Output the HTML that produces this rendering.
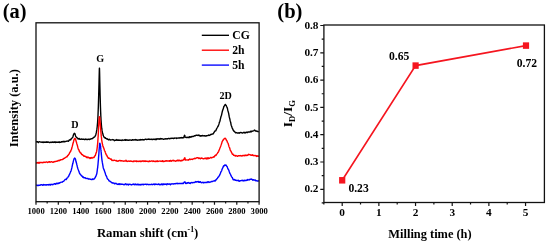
<!DOCTYPE html>
<html lang="en"><head><meta charset="utf-8"><title>Raman spectra and ID/IG ratio</title>
<style>html,body{margin:0;padding:0;background:#fff}body{width:550px;height:244px;overflow:hidden}svg{display:block}text{font-family:"Liberation Serif", "Times New Roman", Times, serif;font-weight:bold;fill:#000}</style></head><body>
<svg width="550" height="244" viewBox="0 0 550 244">
<rect x="0" y="0" width="550" height="244" fill="#ffffff"/>
<text x="2.7" y="17.5" font-size="20.4">(a)</text>
<clipPath id="ca"><rect x="36.0" y="22.8" width="223.10" height="178.90"/></clipPath>
<g clip-path="url(#ca)" fill="none" stroke-width="1.4" stroke-linejoin="round">
<polyline stroke="#000000" points="36.00,141.60 36.30,141.92 36.60,141.78 36.90,141.84 37.20,141.61 37.50,141.61 37.80,141.80 38.10,142.36 38.40,142.54 38.70,141.97 39.00,141.90 39.30,141.86 39.60,141.75 39.90,141.80 40.20,142.05 40.50,142.08 40.80,142.16 41.10,142.17 41.40,142.04 41.70,142.32 42.00,142.41 42.30,142.09 42.60,141.99 42.90,142.16 43.20,142.50 43.50,142.38 43.80,142.04 44.10,142.25 44.40,142.16 44.70,141.96 45.00,142.25 45.30,142.39 45.60,142.27 45.90,142.29 46.20,141.84 46.50,141.91 46.80,142.20 47.10,141.79 47.40,141.99 47.70,142.37 48.00,142.26 48.30,141.99 48.60,142.07 48.90,142.24 49.20,142.46 49.50,142.59 49.80,142.40 50.10,142.47 50.40,142.41 50.70,142.10 51.00,142.23 51.30,142.47 51.60,142.35 51.90,142.14 52.20,142.21 52.50,141.95 52.80,142.02 53.10,142.49 53.40,142.13 53.70,142.07 54.00,142.17 54.30,142.28 54.60,142.11 54.90,141.85 55.20,142.27 55.50,142.59 55.80,142.13 56.10,141.87 56.40,142.24 56.70,142.22 57.00,142.40 57.30,142.30 57.60,142.09 57.90,142.10 58.20,142.25 58.50,142.39 58.80,142.10 59.10,141.81 59.40,142.12 59.70,142.49 60.00,142.32 60.30,142.36 60.60,142.28 60.90,141.98 61.20,141.77 61.50,141.72 61.80,142.03 62.10,141.90 62.40,141.56 62.70,141.71 63.00,141.80 63.30,141.91 63.60,141.64 63.90,141.24 64.20,141.39 64.50,141.80 64.80,141.87 65.10,141.67 65.40,141.45 65.70,141.40 66.00,141.35 66.30,141.37 66.60,141.22 66.90,141.04 67.20,141.08 67.50,141.06 67.80,141.03 68.10,141.25 68.40,141.35 68.70,141.07 69.00,140.40 69.30,139.98 69.60,140.06 69.90,140.03 70.20,139.60 70.50,139.50 70.80,139.80 71.10,139.17 71.40,138.56 71.70,138.30 72.00,138.07 72.30,137.82 72.60,137.56 72.90,136.73 73.20,135.70 73.50,134.82 73.80,134.07 74.10,133.52 74.40,133.31 74.70,133.44 75.00,133.95 75.30,134.85 75.60,135.89 75.90,136.78 76.20,137.02 76.50,137.26 76.80,137.71 77.10,137.94 77.40,137.93 77.70,138.30 78.00,138.98 78.30,138.99 78.60,138.62 78.90,138.57 79.20,138.53 79.50,138.87 79.80,139.27 80.10,139.24 80.40,139.20 80.70,139.26 81.00,139.26 81.30,139.03 81.60,138.96 81.90,139.23 82.20,139.20 82.50,139.12 82.80,139.12 83.10,139.14 83.40,139.41 83.70,139.39 84.00,139.23 84.30,139.41 84.60,139.53 84.90,139.66 85.20,139.22 85.50,139.08 85.80,139.32 86.10,139.20 86.40,139.40 86.70,139.53 87.00,139.55 87.30,139.40 87.60,139.47 87.90,139.39 88.20,139.10 88.50,139.26 88.80,139.17 89.10,139.36 89.40,139.58 89.70,139.55 90.00,139.34 90.30,138.90 90.60,138.88 90.90,138.99 91.20,138.81 91.50,138.68 91.80,138.68 92.10,138.77 92.40,138.56 92.70,138.33 93.00,138.18 93.30,137.69 93.60,137.48 93.90,137.20 94.20,137.05 94.50,137.06 94.80,136.67 95.10,136.12 95.40,135.76 95.70,134.98 96.00,133.86 96.30,132.64 96.60,130.92 96.90,129.20 97.20,126.71 97.50,123.38 97.55,123.01 97.60,122.39 97.65,121.67 97.70,120.60 97.75,119.87 97.80,119.07 97.85,118.10 97.90,117.26 97.95,116.29 98.00,115.22 98.05,114.03 98.10,112.89 98.15,111.49 98.20,110.24 98.25,109.08 98.30,107.91 98.35,106.86 98.40,104.89 98.45,103.17 98.50,101.84 98.55,99.99 98.60,98.38 98.65,96.70 98.70,94.53 98.75,92.72 98.80,91.09 98.85,89.23 98.90,87.13 98.95,85.25 99.00,83.59 99.05,81.31 99.10,79.07 99.15,77.18 99.20,75.12 99.25,73.35 99.30,71.53 99.35,69.46 99.40,68.24 99.45,68.14 99.50,69.29 99.55,70.76 99.60,72.45 99.65,74.87 99.70,77.24 99.75,79.89 99.80,82.14 99.85,84.15 99.90,86.44 99.95,88.53 100.00,90.38 100.05,92.57 100.10,94.68 100.15,96.29 100.20,98.00 100.25,99.65 100.30,101.59 100.35,103.51 100.40,105.12 100.45,106.67 100.50,108.12 100.55,109.33 100.60,110.68 100.65,112.03 100.70,113.10 100.75,114.27 100.80,115.58 100.85,116.54 100.90,117.28 100.95,118.30 101.00,119.54 101.05,120.25 101.10,120.74 101.15,121.52 101.20,122.46 101.25,122.89 101.30,123.41 101.35,124.51 101.40,124.92 101.45,125.54 101.70,128.20 102.00,130.16 102.30,131.84 102.60,133.03 102.90,133.98 103.20,135.36 103.50,136.00 103.80,136.57 104.10,137.17 104.40,137.43 104.70,137.79 105.00,137.57 105.30,137.72 105.60,138.32 105.90,138.41 106.20,138.34 106.50,138.72 106.80,138.96 107.10,138.75 107.40,138.85 107.70,139.34 108.00,139.46 108.30,139.54 108.60,139.93 108.90,139.85 109.20,139.49 109.50,139.33 109.80,139.55 110.10,139.93 110.40,140.01 110.70,139.99 111.00,139.91 111.30,139.90 111.60,139.92 111.90,139.84 112.20,139.74 112.50,139.56 112.80,139.70 113.10,139.79 113.40,139.73 113.70,140.02 114.00,140.16 114.30,140.52 114.60,140.69 114.90,140.15 115.20,140.13 115.50,140.29 115.80,140.07 116.10,140.19 116.40,140.19 116.70,139.54 117.00,139.79 117.30,140.17 117.60,140.29 117.90,140.28 118.20,139.87 118.50,140.21 118.80,140.23 119.10,140.02 119.40,140.42 119.70,140.40 120.00,140.16 120.30,140.16 120.60,140.30 120.90,140.15 121.20,140.12 121.50,140.33 121.80,140.60 122.10,140.45 122.40,139.94 122.70,140.10 123.00,140.18 123.30,140.10 123.60,140.18 123.90,140.31 124.20,140.18 124.50,139.98 124.80,139.68 125.10,139.55 125.40,140.18 125.70,140.21 126.00,139.85 126.30,139.76 126.60,139.96 126.90,140.17 127.20,139.89 127.50,139.96 127.80,140.18 128.10,140.18 128.40,140.04 128.70,140.18 129.00,140.34 129.30,140.04 129.60,139.89 129.90,139.86 130.20,140.07 130.50,140.06 130.80,140.09 131.10,140.22 131.40,140.25 131.70,140.28 132.00,140.05 132.30,139.62 132.60,139.67 132.90,140.08 133.20,140.05 133.50,140.01 133.80,139.90 134.10,139.75 134.40,139.67 134.70,139.93 135.00,140.10 135.30,139.80 135.60,139.56 135.90,139.60 136.20,140.03 136.50,140.12 136.80,139.77 137.10,139.92 137.40,140.24 137.70,140.17 138.00,140.06 138.30,140.08 138.60,140.03 138.90,139.96 139.20,139.75 139.50,139.85 139.80,140.00 140.10,140.07 140.40,139.71 140.70,139.49 141.00,139.95 141.30,139.78 141.60,139.69 141.90,139.85 142.20,139.85 142.50,139.64 142.80,139.52 143.10,139.75 143.40,139.96 143.70,139.81 144.00,139.61 144.30,139.61 144.60,139.75 144.90,139.54 145.20,139.16 145.50,139.33 145.80,139.36 146.10,139.24 146.40,139.41 146.70,139.57 147.00,139.37 147.30,139.41 147.60,139.29 147.90,139.24 148.20,139.26 148.50,138.96 148.80,139.30 149.10,139.42 149.40,139.19 149.70,139.17 150.00,139.35 150.30,139.40 150.60,139.32 150.90,139.48 151.20,139.36 151.50,139.11 151.80,139.13 152.10,139.37 152.40,139.60 152.70,139.60 153.00,139.43 153.30,139.19 153.60,139.32 153.90,139.27 154.20,139.26 154.50,139.42 154.80,139.17 155.10,139.03 155.40,139.11 155.70,139.38 156.00,139.80 156.30,139.50 156.60,139.08 156.90,138.73 157.20,138.75 157.50,139.09 157.80,138.88 158.10,138.99 158.40,138.91 158.70,138.74 159.00,138.99 159.30,138.82 159.60,138.92 159.90,139.27 160.20,138.91 160.50,138.51 160.80,138.81 161.10,139.01 161.40,138.72 161.70,138.66 162.00,138.82 162.30,138.84 162.60,138.97 162.90,139.04 163.20,139.18 163.50,139.32 163.80,139.14 164.10,139.08 164.40,139.16 164.70,139.09 165.00,138.68 165.30,138.69 165.60,138.87 165.90,138.98 166.20,138.96 166.50,138.78 166.80,138.80 167.10,138.96 167.40,138.92 167.70,138.60 168.00,138.60 168.30,138.55 168.60,138.51 168.90,138.56 169.20,138.56 169.50,138.85 169.80,138.72 170.10,138.41 170.40,138.42 170.70,138.51 171.00,138.33 171.30,138.10 171.60,138.26 171.90,138.44 172.20,138.42 172.50,138.24 172.80,138.09 173.10,138.23 173.40,138.58 173.70,138.53 174.00,138.32 174.30,138.32 174.60,138.12 174.90,137.99 175.20,138.07 175.50,138.15 175.80,138.17 176.10,137.92 176.40,138.08 176.70,138.52 177.00,138.28 177.30,138.06 177.60,138.13 177.90,138.17 178.20,137.88 178.50,137.99 178.80,138.13 179.10,138.06 179.40,138.13 179.70,137.85 180.00,137.80 180.30,137.98 180.60,137.85 180.90,137.63 181.20,137.67 181.50,137.45 181.80,137.71 182.10,138.05 182.40,137.82 182.70,137.90 183.00,137.73 183.30,137.50 183.60,137.78 183.90,137.59 184.20,136.35 184.50,135.17 184.80,135.44 185.10,136.69 185.40,137.29 185.70,137.31 186.00,137.52 186.30,137.40 186.60,137.31 186.90,137.54 187.20,137.55 187.50,137.46 187.80,137.26 188.10,137.24 188.40,137.24 188.70,137.32 189.00,137.75 189.30,137.39 189.60,136.61 189.90,136.62 190.20,136.97 190.50,137.15 190.80,137.20 191.10,136.85 191.40,136.50 191.70,136.75 192.00,136.63 192.30,136.52 192.60,136.57 192.90,136.43 193.20,136.48 193.50,136.39 193.80,136.31 194.10,135.93 194.40,135.76 194.70,135.82 195.00,135.73 195.30,135.84 195.60,135.67 195.90,135.30 196.20,135.17 196.50,135.18 196.80,135.38 197.10,135.28 197.40,135.33 197.70,135.50 198.00,135.30 198.30,135.06 198.60,135.17 198.90,135.52 199.20,135.24 199.50,135.37 199.80,135.95 200.10,135.86 200.40,135.73 200.70,136.10 201.00,136.25 201.30,135.77 201.60,135.61 201.90,135.75 202.20,135.75 202.50,135.42 202.80,135.58 203.10,135.85 203.40,135.76 203.70,135.84 204.00,135.94 204.30,135.90 204.60,135.63 204.90,135.74 205.20,136.06 205.50,135.91 205.80,135.88 206.10,135.95 206.40,135.62 206.70,135.79 207.00,135.72 207.30,135.60 207.60,135.62 207.90,135.49 208.20,135.34 208.50,135.09 208.80,135.40 209.10,135.50 209.40,135.28 209.70,135.11 210.00,135.10 210.30,134.86 210.60,134.52 210.90,134.60 211.20,134.52 211.50,134.29 211.80,134.25 212.10,134.17 212.40,133.95 212.70,134.01 213.00,133.97 213.30,133.64 213.60,133.19 213.90,132.61 214.20,132.06 214.50,131.73 214.80,131.26 215.10,130.82 215.40,130.84 215.70,130.74 216.00,130.30 216.30,129.41 216.60,128.81 216.90,128.27 217.20,127.75 217.50,127.24 217.80,126.60 218.10,126.34 218.40,125.63 218.70,124.82 219.00,123.90 219.30,122.62 219.60,121.89 219.90,121.26 220.20,119.96 220.50,118.65 220.80,117.42 221.10,116.25 221.40,115.46 221.70,114.31 222.00,112.91 222.30,111.55 222.60,110.57 222.90,109.83 223.20,108.85 223.50,107.83 223.80,106.71 224.10,106.23 224.40,105.84 224.70,105.11 225.00,104.96 225.30,104.54 225.60,104.48 225.90,105.03 226.20,105.50 226.50,106.31 226.80,107.05 227.10,107.42 227.40,108.30 227.70,109.73 228.00,111.01 228.30,112.07 228.60,113.12 228.90,114.78 229.20,116.49 229.50,117.78 229.80,118.83 230.10,120.44 230.40,121.54 230.70,122.43 231.00,124.37 231.30,125.48 231.60,126.19 231.90,126.94 232.20,127.95 232.50,128.68 232.80,129.18 233.10,129.99 233.40,130.31 233.70,130.88 234.00,131.21 234.30,131.29 234.60,131.78 234.90,132.06 235.20,132.33 235.50,132.69 235.80,132.70 236.10,132.57 236.40,132.61 236.70,132.70 237.00,132.95 237.30,133.00 237.60,132.96 237.90,132.99 238.20,132.79 238.50,132.94 238.80,132.91 239.10,132.77 239.40,133.15 239.70,132.96 240.00,132.71 240.30,132.62 240.60,132.53 240.90,132.53 241.20,132.53 241.50,132.67 241.80,132.73 242.10,133.04 242.40,133.05 242.70,132.88 243.00,132.81 243.30,132.65 243.60,132.51 243.90,132.25 244.20,132.37 244.50,132.89 244.80,132.93 245.10,132.57 245.40,132.73 245.70,132.73 246.00,132.35 246.30,132.20 246.60,132.12 246.90,132.24 247.20,132.67 247.50,132.63 247.80,132.12 248.10,132.01 248.40,132.09 248.70,131.86 249.00,131.85 249.30,132.16 249.60,132.12 249.90,132.03 250.20,131.69 250.50,131.24 250.80,131.56 251.10,131.90 251.40,131.36 251.70,131.13 252.00,131.28 252.30,131.24 252.60,131.18 252.90,130.94 253.20,130.87 253.50,130.91 253.80,130.83 254.10,130.48 254.40,130.00 254.70,130.16 255.00,130.38 255.30,130.56 255.60,130.96 255.90,131.01 256.20,130.89 256.50,130.92 256.80,131.23 257.10,131.18 257.40,131.21 257.70,131.52 258.00,131.49 258.30,131.68 258.60,131.60 258.90,131.59"/>
<polyline stroke="#ff0000" points="36.00,162.57 36.30,162.87 36.60,163.10 36.90,163.03 37.20,162.73 37.50,162.57 37.80,162.78 38.10,163.19 38.40,163.10 38.70,162.59 39.00,162.36 39.30,162.85 39.60,163.04 39.90,162.45 40.20,162.38 40.50,162.47 40.80,162.36 41.10,162.47 41.40,162.44 41.70,162.61 42.00,162.71 42.30,162.49 42.60,162.56 42.90,162.79 43.20,162.42 43.50,162.22 43.80,162.32 44.10,162.31 44.40,162.24 44.70,162.26 45.00,162.46 45.30,162.39 45.60,162.19 45.90,162.16 46.20,162.13 46.50,161.95 46.80,162.15 47.10,162.18 47.40,162.32 47.70,162.61 48.00,162.04 48.30,161.94 48.60,162.07 48.90,162.01 49.20,162.18 49.50,161.80 49.80,161.73 50.10,162.00 50.40,162.18 50.70,161.99 51.00,161.92 51.30,161.90 51.60,161.69 51.90,161.70 52.20,161.97 52.50,162.18 52.80,162.32 53.10,162.29 53.40,161.98 53.70,161.97 54.00,161.68 54.30,161.48 54.60,161.77 54.90,161.67 55.20,161.42 55.50,161.43 55.80,161.45 56.10,161.34 56.40,161.15 56.70,161.20 57.00,161.19 57.30,160.93 57.60,161.00 57.90,160.86 58.20,160.43 58.50,160.36 58.80,160.66 59.10,160.74 59.40,160.32 59.70,160.09 60.00,160.24 60.30,160.16 60.60,159.77 60.90,159.95 61.20,159.86 61.50,159.58 61.80,159.67 62.10,159.52 62.40,159.38 62.70,159.55 63.00,159.33 63.30,158.72 63.60,158.34 63.90,158.35 64.20,158.44 64.50,158.34 64.80,158.13 65.10,157.79 65.40,157.54 65.70,157.31 66.00,157.23 66.30,157.01 66.60,156.73 66.90,156.86 67.20,156.63 67.50,155.72 67.80,155.61 68.10,155.60 68.40,154.76 68.70,154.47 69.00,154.21 69.30,153.50 69.60,152.90 69.90,152.31 70.20,151.87 70.50,151.61 70.80,150.88 71.10,150.05 71.40,149.64 71.70,148.49 72.00,147.26 72.30,146.39 72.60,145.06 72.90,143.77 73.20,142.74 73.50,141.78 73.80,140.55 74.10,139.48 74.40,138.93 74.70,138.53 75.00,138.48 75.30,138.80 75.60,139.37 75.90,140.51 76.20,141.61 76.50,142.47 76.80,143.67 77.10,144.64 77.40,145.55 77.70,146.87 78.00,147.97 78.30,148.95 78.60,149.62 78.90,149.80 79.20,150.77 79.50,151.80 79.80,151.81 80.10,152.34 80.40,152.98 80.70,152.83 81.00,153.13 81.30,153.70 81.60,154.37 81.90,154.61 82.20,154.56 82.50,154.90 82.80,155.11 83.10,155.22 83.40,155.52 83.70,156.06 84.00,156.30 84.30,156.11 84.60,155.95 84.90,156.27 85.20,156.48 85.50,156.47 85.80,156.42 86.10,156.97 86.40,157.52 86.70,157.11 87.00,157.20 87.30,157.68 87.60,157.19 87.90,156.93 88.20,157.35 88.50,157.62 88.80,157.73 89.10,157.63 89.40,157.69 89.70,158.09 90.00,158.51 90.30,158.13 90.60,157.62 90.90,158.19 91.20,158.18 91.50,157.60 91.80,157.76 92.10,157.91 92.40,158.02 92.70,157.93 93.00,157.51 93.30,157.40 93.60,157.44 93.90,157.49 94.20,157.20 94.50,156.35 94.80,155.82 95.10,155.86 95.40,155.41 95.70,154.13 96.00,153.30 96.30,152.63 96.60,151.64 96.90,149.82 97.20,147.61 97.50,145.21 97.55,144.45 97.60,143.73 97.65,143.59 97.70,143.32 97.75,142.55 97.80,141.66 97.85,141.04 97.90,140.26 97.95,139.33 98.00,138.45 98.05,137.69 98.10,137.03 98.15,136.68 98.20,135.80 98.25,134.66 98.30,134.02 98.35,132.84 98.40,131.86 98.45,130.55 98.50,129.39 98.55,128.93 98.60,127.50 98.65,126.16 98.70,125.78 98.75,124.96 98.80,123.63 98.85,122.69 98.90,121.90 98.95,121.25 99.00,120.64 99.05,119.74 99.10,118.90 99.15,118.37 99.20,118.23 99.25,117.91 99.30,117.50 99.35,117.23 99.40,116.81 99.45,116.71 99.50,117.11 99.55,117.37 99.60,117.27 99.65,117.19 99.70,117.64 99.75,118.19 99.80,118.48 99.85,118.89 99.90,119.46 99.95,120.06 100.00,120.70 100.05,121.37 100.10,122.01 100.15,122.59 100.20,122.93 100.25,123.42 100.30,124.21 100.35,124.83 100.40,125.50 100.45,126.43 100.50,126.87 100.55,127.03 100.60,128.05 100.65,129.02 100.70,129.59 100.75,130.01 100.80,130.83 100.85,131.81 100.90,132.11 100.95,132.52 101.00,133.15 101.05,133.76 101.10,134.26 101.15,134.64 101.20,135.44 101.25,136.14 101.30,136.44 101.35,136.95 101.40,136.99 101.45,137.52 101.70,139.94 102.00,141.84 102.30,143.55 102.60,144.74 102.90,145.95 103.20,146.92 103.50,147.44 103.80,148.19 104.10,149.15 104.40,150.20 104.70,150.85 105.00,151.24 105.30,152.30 105.60,153.11 105.90,153.84 106.20,154.67 106.50,154.95 106.80,155.40 107.10,156.10 107.40,156.82 107.70,157.12 108.00,157.50 108.30,158.23 108.60,158.33 108.90,158.04 109.20,158.14 109.50,158.32 109.80,158.59 110.10,158.89 110.40,158.93 110.70,159.30 111.00,159.22 111.30,159.02 111.60,159.94 111.90,160.46 112.20,160.29 112.50,160.28 112.80,160.57 113.10,160.66 113.40,160.43 113.70,160.19 114.00,160.22 114.30,160.35 114.60,160.29 114.90,160.33 115.20,160.49 115.50,160.59 115.80,160.78 116.10,160.63 116.40,160.48 116.70,161.05 117.00,161.11 117.30,161.02 117.60,161.23 117.90,161.26 118.20,161.21 118.50,160.75 118.80,160.59 119.10,160.78 119.40,160.57 119.70,160.57 120.00,160.63 120.30,160.44 120.60,160.70 120.90,161.00 121.20,160.85 121.50,160.71 121.80,160.75 122.10,160.85 122.40,160.89 122.70,160.96 123.00,160.97 123.30,161.05 123.60,161.23 123.90,161.23 124.20,161.03 124.50,160.87 124.80,161.07 125.10,161.15 125.40,161.07 125.70,160.68 126.00,160.23 126.30,160.72 126.60,161.26 126.90,161.44 127.20,161.52 127.50,161.32 127.80,161.20 128.10,160.92 128.40,161.07 128.70,161.22 129.00,161.15 129.30,161.30 129.60,161.26 129.90,161.38 130.20,161.25 130.50,161.03 130.80,160.97 131.10,160.97 131.40,161.41 131.70,161.41 132.00,161.33 132.30,161.54 132.60,161.46 132.90,161.46 133.20,161.15 133.50,161.08 133.80,161.53 134.10,161.35 134.40,161.06 134.70,161.06 135.00,161.13 135.30,161.06 135.60,161.28 135.90,161.40 136.20,160.85 136.50,161.23 136.80,161.67 137.10,161.44 137.40,161.37 137.70,161.21 138.00,161.08 138.30,161.27 138.60,161.46 138.90,161.50 139.20,161.37 139.50,161.13 139.80,161.06 140.10,161.33 140.40,161.62 140.70,161.37 141.00,161.03 141.30,161.31 141.60,161.52 141.90,161.42 142.20,161.07 142.50,160.88 142.80,161.02 143.10,161.13 143.40,160.92 143.70,161.11 144.00,161.46 144.30,161.31 144.60,161.05 144.90,160.97 145.20,161.41 145.50,161.14 145.80,160.97 146.10,161.36 146.40,161.19 146.70,161.21 147.00,161.27 147.30,161.34 147.60,161.49 147.90,161.32 148.20,161.58 148.50,161.68 148.80,161.56 149.10,161.21 149.40,160.87 149.70,161.22 150.00,161.49 150.30,161.33 150.60,161.31 150.90,161.14 151.20,161.04 151.50,161.02 151.80,161.04 152.10,161.16 152.40,160.99 152.70,161.08 153.00,161.51 153.30,161.32 153.60,160.90 153.90,161.26 154.20,161.29 154.50,161.41 154.80,161.53 155.10,161.23 155.40,161.26 155.70,161.54 156.00,161.59 156.30,161.38 156.60,161.31 156.90,160.95 157.20,160.75 157.50,161.28 157.80,161.57 158.10,161.40 158.40,161.37 158.70,161.19 159.00,161.13 159.30,161.07 159.60,161.08 159.90,161.11 160.20,161.00 160.50,161.21 160.80,161.19 161.10,161.22 161.40,161.35 161.70,161.30 162.00,161.45 162.30,161.13 162.60,160.62 162.90,160.98 163.20,161.42 163.50,161.66 163.80,161.63 164.10,161.42 164.40,161.13 164.70,161.11 165.00,161.38 165.30,161.06 165.60,160.78 165.90,160.93 166.20,161.13 166.50,160.63 166.80,160.58 167.10,161.12 167.40,161.07 167.70,161.06 168.00,161.16 168.30,160.93 168.60,160.91 168.90,161.03 169.20,160.79 169.50,160.85 169.80,161.27 170.10,160.97 170.40,160.41 170.70,160.36 171.00,160.98 171.30,161.22 171.60,160.85 171.90,160.75 172.20,160.58 172.50,160.36 172.80,160.54 173.10,160.92 173.40,160.54 173.70,160.30 174.00,160.51 174.30,160.67 174.60,160.83 174.90,161.02 175.20,161.20 175.50,161.18 175.80,161.17 176.10,160.77 176.40,160.43 176.70,160.82 177.00,160.95 177.30,160.75 177.60,160.34 177.90,160.00 178.20,160.46 178.50,160.83 178.80,160.64 179.10,160.49 179.40,160.23 179.70,160.35 180.00,160.81 180.30,161.01 180.60,160.82 180.90,160.48 181.20,160.25 181.50,160.48 181.80,160.94 182.10,160.60 182.40,160.32 182.70,160.42 183.00,160.24 183.30,159.74 183.60,159.62 183.90,159.72 184.20,158.80 184.50,157.95 184.80,157.73 185.10,158.77 185.40,160.04 185.70,160.09 186.00,160.01 186.30,159.88 186.60,159.88 186.90,159.91 187.20,159.86 187.50,159.88 187.80,159.92 188.10,160.16 188.40,159.86 188.70,159.60 189.00,159.71 189.30,159.42 189.60,159.08 189.90,159.34 190.20,159.53 190.50,159.24 190.80,159.43 191.10,159.32 191.40,159.17 191.70,159.28 192.00,159.34 192.30,159.46 192.60,159.09 192.90,158.99 193.20,159.04 193.50,158.81 193.80,158.71 194.10,158.73 194.40,158.47 194.70,158.30 195.00,158.63 195.30,158.46 195.60,158.53 195.90,158.39 196.20,158.02 196.50,158.02 196.80,157.84 197.10,157.70 197.40,157.69 197.70,157.87 198.00,157.82 198.30,157.99 198.60,158.41 198.90,158.01 199.20,157.91 199.50,158.24 199.80,158.17 200.10,158.60 200.40,158.80 200.70,158.46 201.00,158.32 201.30,157.91 201.60,158.04 201.90,158.31 202.20,158.23 202.50,158.40 202.80,158.55 203.10,158.90 203.40,158.91 203.70,158.78 204.00,158.57 204.30,158.43 204.60,158.60 204.90,158.26 205.20,158.47 205.50,158.59 205.80,157.99 206.10,158.39 206.40,158.96 206.70,158.53 207.00,158.03 207.30,158.67 207.60,158.77 207.90,157.85 208.20,157.70 208.50,158.36 208.80,158.54 209.10,158.29 209.40,158.35 209.70,158.29 210.00,157.98 210.30,157.53 210.60,157.61 210.90,157.64 211.20,157.48 211.50,157.91 211.80,157.93 212.10,157.55 212.40,157.37 212.70,157.38 213.00,157.41 213.30,156.93 213.60,156.66 213.90,157.03 214.20,156.96 214.50,156.34 214.80,155.89 215.10,155.44 215.40,155.18 215.70,155.55 216.00,155.39 216.30,154.65 216.60,154.21 216.90,153.97 217.20,153.64 217.50,153.16 217.80,152.56 218.10,152.21 218.40,152.06 218.70,151.25 219.00,150.25 219.30,149.88 219.60,149.01 219.90,147.95 220.20,147.37 220.50,146.70 220.80,145.91 221.10,144.90 221.40,144.19 221.70,143.33 222.00,142.19 222.30,141.29 222.60,141.02 222.90,140.43 223.20,139.79 223.50,139.71 223.80,139.36 224.10,138.89 224.40,138.44 224.70,138.37 225.00,138.36 225.30,138.22 225.60,138.76 225.90,139.14 226.20,139.65 226.50,140.40 226.80,140.60 227.10,141.24 227.40,142.26 227.70,142.72 228.00,143.15 228.30,144.05 228.60,145.09 228.90,146.19 229.20,147.02 229.50,147.65 229.80,148.35 230.10,149.46 230.40,150.47 230.70,150.98 231.00,151.19 231.30,151.87 231.60,152.69 231.90,153.11 232.20,153.80 232.50,154.29 232.80,154.16 233.10,154.15 233.40,154.82 233.70,155.24 234.00,155.34 234.30,155.45 234.60,155.26 234.90,155.44 235.20,155.97 235.50,156.04 235.80,155.63 236.10,155.55 236.40,155.69 236.70,155.79 237.00,156.07 237.30,156.39 237.60,156.25 237.90,155.83 238.20,155.80 238.50,155.87 238.80,155.77 239.10,155.76 239.40,155.83 239.70,155.61 240.00,155.69 240.30,155.82 240.60,155.54 240.90,155.68 241.20,155.75 241.50,155.95 241.80,156.11 242.10,155.80 242.40,155.57 242.70,155.47 243.00,155.73 243.30,155.66 243.60,155.62 243.90,155.35 244.20,155.22 244.50,155.70 244.80,155.69 245.10,155.52 245.40,155.60 245.70,155.42 246.00,155.03 246.30,155.16 246.60,155.49 246.90,155.51 247.20,155.22 247.50,155.16 247.80,155.23 248.10,154.92 248.40,154.32 248.70,154.33 249.00,154.54 249.30,154.60 249.60,154.64 249.90,154.59 250.20,154.88 250.50,155.06 250.80,155.00 251.10,155.29 251.40,155.25 251.70,154.93 252.00,155.27 252.30,155.19 252.60,154.74 252.90,155.21 253.20,155.60 253.50,155.53 253.80,155.63 254.10,155.73 254.40,155.58 254.70,155.46 255.00,155.39 255.30,155.46 255.60,155.73 255.90,155.66 256.20,155.77 256.50,156.40 256.80,156.11 257.10,155.77 257.40,156.16 257.70,156.22 258.00,155.93 258.30,155.97 258.60,156.24 258.90,156.02"/>
<polyline stroke="#0000ff" points="36.00,185.40 36.30,185.17 36.60,185.13 36.90,185.10 37.20,185.18 37.50,185.60 37.80,185.49 38.10,185.12 38.40,185.29 38.70,185.46 39.00,185.38 39.30,185.13 39.60,185.09 39.90,185.38 40.20,185.13 40.50,184.90 40.80,184.79 41.10,184.62 41.40,184.62 41.70,184.80 42.00,184.89 42.30,184.97 42.60,185.22 42.90,185.12 43.20,184.61 43.50,184.53 43.80,184.97 44.10,185.07 44.40,184.78 44.70,184.66 45.00,184.74 45.30,184.66 45.60,185.02 45.90,185.00 46.20,184.78 46.50,185.07 46.80,184.95 47.10,184.74 47.40,184.85 47.70,184.86 48.00,184.59 48.30,184.57 48.60,185.02 48.90,184.69 49.20,184.57 49.50,184.85 49.80,184.55 50.10,184.87 50.40,185.09 50.70,184.47 51.00,184.31 51.30,184.61 51.60,184.52 51.90,184.51 52.20,184.49 52.50,184.45 52.80,184.69 53.10,184.40 53.40,184.13 53.70,184.13 54.00,184.07 54.30,183.89 54.60,183.71 54.90,183.84 55.20,184.06 55.50,184.26 55.80,183.79 56.10,183.37 56.40,183.67 56.70,183.39 57.00,183.12 57.30,183.40 57.60,183.65 57.90,183.72 58.20,183.35 58.50,183.07 58.80,183.00 59.10,183.26 59.40,183.14 59.70,182.70 60.00,182.75 60.30,182.68 60.60,182.46 60.90,182.17 61.20,182.08 61.50,182.08 61.80,182.16 62.10,182.22 62.40,181.86 62.70,181.71 63.00,181.49 63.30,181.39 63.60,181.28 63.90,181.00 64.20,180.57 64.50,180.32 64.80,180.03 65.10,179.36 65.40,179.37 65.70,179.33 66.00,179.14 66.30,179.44 66.60,178.95 66.90,178.10 67.20,177.95 67.50,177.79 67.80,177.33 68.10,176.79 68.40,176.51 68.70,176.17 69.00,175.34 69.30,174.68 69.60,174.28 69.90,173.46 70.20,172.81 70.50,172.09 70.80,171.40 71.10,170.69 71.40,169.56 71.70,168.35 72.00,167.17 72.30,165.69 72.60,164.22 72.90,163.33 73.20,161.82 73.50,160.66 73.80,159.61 74.10,158.71 74.40,158.30 74.70,158.09 75.00,158.45 75.30,158.57 75.60,159.63 75.90,161.26 76.20,162.24 76.50,163.20 76.80,164.47 77.10,165.59 77.40,167.00 77.70,168.18 78.00,168.98 78.30,169.85 78.60,170.59 78.90,171.26 79.20,172.31 79.50,173.14 79.80,173.66 80.10,174.21 80.40,174.38 80.70,174.74 81.00,175.16 81.30,175.57 81.60,175.93 81.90,176.16 82.20,176.24 82.50,176.38 82.80,177.16 83.10,177.38 83.40,177.06 83.70,177.41 84.00,178.00 84.30,177.81 84.60,177.63 84.90,177.89 85.20,177.70 85.50,178.04 85.80,178.44 86.10,178.40 86.40,178.34 86.70,178.48 87.00,178.58 87.30,178.53 87.60,178.49 87.90,178.35 88.20,178.86 88.50,179.05 88.80,178.91 89.10,179.05 89.40,178.97 89.70,178.93 90.00,179.18 90.30,179.26 90.60,179.15 90.90,179.24 91.20,179.51 91.50,179.65 91.80,179.51 92.10,179.27 92.40,178.92 92.70,179.15 93.00,179.52 93.30,179.22 93.60,179.01 93.90,179.02 94.20,178.86 94.50,178.63 94.80,178.07 95.10,177.78 95.40,177.15 95.70,176.43 96.00,176.02 96.30,175.14 96.60,174.31 96.90,173.08 97.20,170.89 97.50,168.29 97.55,168.28 97.60,168.01 97.65,167.46 97.70,167.38 97.75,166.65 97.80,165.67 97.85,165.56 97.90,165.49 97.95,164.91 98.00,164.40 98.05,163.77 98.10,162.95 98.15,162.53 98.20,162.07 98.25,161.22 98.30,160.90 98.35,160.59 98.40,159.94 98.45,159.14 98.50,158.29 98.55,157.63 98.60,156.92 98.65,156.46 98.70,155.78 98.75,155.12 98.80,154.62 98.85,154.22 98.90,153.20 98.95,152.28 99.00,151.82 99.05,150.96 99.10,150.02 99.15,149.27 99.20,149.02 99.25,148.46 99.30,147.73 99.35,147.11 99.40,146.76 99.45,146.30 99.50,145.21 99.55,144.65 99.60,144.31 99.65,143.51 99.70,143.49 99.75,144.11 99.80,144.05 99.85,143.47 99.90,143.23 99.95,143.65 100.00,143.89 100.05,143.76 100.10,143.83 100.15,143.97 100.20,144.31 100.25,144.62 100.30,144.76 100.35,144.75 100.40,145.12 100.45,145.52 100.50,146.00 100.55,146.28 100.60,146.46 100.65,147.13 100.70,147.36 100.75,148.14 100.80,149.13 100.85,149.22 100.90,149.59 100.95,150.25 101.00,150.14 101.05,150.64 101.10,151.63 101.15,152.12 101.20,152.45 101.25,152.90 101.30,153.58 101.35,154.36 101.40,154.96 101.45,155.24 101.70,157.86 102.00,160.33 102.30,162.18 102.60,163.79 102.90,165.68 103.20,167.48 103.50,168.44 103.80,169.35 104.10,170.09 104.40,170.86 104.70,171.64 105.00,172.41 105.30,173.32 105.60,174.48 105.90,175.38 106.20,175.87 106.50,176.40 106.80,176.97 107.10,178.00 107.40,178.78 107.70,179.01 108.00,179.33 108.30,179.53 108.60,179.96 108.90,180.67 109.20,180.92 109.50,181.00 109.80,181.28 110.10,181.57 110.40,181.53 110.70,181.65 111.00,181.96 111.30,182.33 111.60,182.49 111.90,182.56 112.20,183.11 112.50,183.06 112.80,182.77 113.10,182.96 113.40,183.16 113.70,183.02 114.00,183.19 114.30,183.82 114.60,183.75 114.90,183.41 115.20,183.32 115.50,183.47 115.80,183.49 116.10,183.28 116.40,183.79 116.70,183.87 117.00,183.88 117.30,184.36 117.60,184.25 117.90,184.10 118.20,184.45 118.50,184.34 118.80,183.90 119.10,183.72 119.40,183.86 119.70,184.41 120.00,184.60 120.30,184.18 120.60,183.87 120.90,183.97 121.20,184.20 121.50,184.27 121.80,184.27 122.10,184.38 122.40,184.31 122.70,184.26 123.00,184.37 123.30,184.37 123.60,184.44 123.90,184.81 124.20,184.84 124.50,184.52 124.80,184.11 125.10,184.18 125.40,184.14 125.70,183.82 126.00,184.34 126.30,184.74 126.60,184.56 126.90,184.12 127.20,184.09 127.50,184.28 127.80,184.47 128.10,185.02 128.40,184.95 128.70,184.39 129.00,184.14 129.30,184.28 129.60,184.47 129.90,184.27 130.20,184.33 130.50,184.33 130.80,184.52 131.10,184.93 131.40,184.92 131.70,184.64 132.00,184.54 132.30,184.60 132.60,184.44 132.90,184.40 133.20,184.24 133.50,184.03 133.80,184.42 134.10,184.65 134.40,184.55 134.70,184.77 135.00,184.41 135.30,184.08 135.60,184.43 135.90,184.65 136.20,184.54 136.50,184.66 136.80,184.77 137.10,184.36 137.40,184.14 137.70,184.52 138.00,184.77 138.30,184.27 138.60,184.43 138.90,184.89 139.20,184.89 139.50,184.71 139.80,184.41 140.10,184.27 140.40,184.79 140.70,184.97 141.00,184.79 141.30,184.71 141.60,184.44 141.90,184.25 142.20,184.15 142.50,184.64 142.80,184.48 143.10,184.50 143.40,184.79 143.70,184.40 144.00,184.25 144.30,184.36 144.60,184.44 144.90,184.42 145.20,184.28 145.50,184.32 145.80,184.29 146.10,184.10 146.40,184.28 146.70,184.68 147.00,184.41 147.30,184.25 147.60,184.41 147.90,184.23 148.20,184.50 148.50,184.59 148.80,184.71 149.10,184.66 149.40,184.45 149.70,184.55 150.00,184.34 150.30,184.49 150.60,184.60 150.90,184.60 151.20,184.62 151.50,184.31 151.80,184.29 152.10,184.50 152.40,184.70 152.70,184.52 153.00,184.33 153.30,184.18 153.60,184.31 153.90,184.42 154.20,183.97 154.50,184.16 154.80,184.69 155.10,184.42 155.40,184.01 155.70,184.16 156.00,184.15 156.30,184.35 156.60,184.41 156.90,184.20 157.20,184.46 157.50,184.45 157.80,184.42 158.10,184.38 158.40,184.07 158.70,183.91 159.00,184.48 159.30,184.76 159.60,184.46 159.90,184.51 160.20,184.49 160.50,184.50 160.80,184.82 161.10,184.62 161.40,183.98 161.70,183.98 162.00,184.02 162.30,184.34 162.60,184.74 162.90,184.42 163.20,184.01 163.50,184.12 163.80,184.63 164.10,184.16 164.40,184.00 164.70,184.31 165.00,184.40 165.30,184.39 165.60,184.13 165.90,184.04 166.20,183.90 166.50,184.42 166.80,184.74 167.10,184.39 167.40,184.06 167.70,183.77 168.00,183.84 168.30,184.17 168.60,184.21 168.90,184.18 169.20,183.97 169.50,183.96 169.80,184.14 170.10,184.38 170.40,184.71 170.70,184.43 171.00,183.93 171.30,183.92 171.60,183.94 171.90,183.79 172.20,183.88 172.50,183.81 172.80,183.91 173.10,184.07 173.40,183.98 173.70,183.95 174.00,183.76 174.30,183.60 174.60,183.67 174.90,183.73 175.20,183.80 175.50,183.88 175.80,183.57 176.10,183.56 176.40,183.55 176.70,183.41 177.00,183.58 177.30,183.30 177.60,183.35 177.90,183.75 178.20,183.68 178.50,183.56 178.80,183.50 179.10,183.38 179.40,183.38 179.70,183.45 180.00,183.50 180.30,183.36 180.60,183.37 180.90,183.60 181.20,183.51 181.50,183.39 181.80,183.50 182.10,183.25 182.40,183.22 182.70,183.55 183.00,183.50 183.30,183.49 183.60,183.18 183.90,182.68 184.20,182.26 184.50,181.86 184.80,181.88 185.10,182.13 185.40,182.74 185.70,183.48 186.00,183.62 186.30,183.44 186.60,182.95 186.90,183.07 187.20,183.31 187.50,182.65 187.80,182.73 188.10,182.90 188.40,182.57 188.70,182.71 189.00,183.16 189.30,183.18 189.60,182.97 189.90,183.34 190.20,183.55 190.50,183.18 190.80,182.80 191.10,182.55 191.40,182.43 191.70,182.70 192.00,182.86 192.30,182.75 192.60,182.81 192.90,182.60 193.20,182.36 193.50,182.58 193.80,182.64 194.10,182.65 194.40,182.57 194.70,182.26 195.00,182.20 195.30,182.03 195.60,181.61 195.90,181.87 196.20,182.13 196.50,182.05 196.80,181.73 197.10,181.59 197.40,181.79 197.70,181.69 198.00,181.39 198.30,181.50 198.60,182.10 198.90,182.25 199.20,182.00 199.50,181.95 199.80,182.23 200.10,181.75 200.40,181.62 200.70,182.26 201.00,182.43 201.30,182.67 201.60,182.78 201.90,182.54 202.20,182.41 202.50,182.52 202.80,182.38 203.10,182.24 203.40,182.52 203.70,182.90 204.00,182.70 204.30,182.34 204.60,182.41 204.90,182.66 205.20,182.62 205.50,182.63 205.80,182.45 206.10,182.14 206.40,182.27 206.70,182.43 207.00,182.65 207.30,182.20 207.60,181.82 207.90,182.14 208.20,182.16 208.50,181.80 208.80,182.08 209.10,182.42 209.40,182.29 209.70,182.07 210.00,182.13 210.30,182.12 210.60,182.09 210.90,181.90 211.20,181.48 211.50,181.62 211.80,181.57 212.10,181.58 212.40,181.66 212.70,181.27 213.00,181.13 213.30,181.12 213.60,181.16 213.90,180.98 214.20,180.59 214.50,180.77 214.80,181.11 215.10,181.08 215.40,180.49 215.70,179.97 216.00,180.02 216.30,179.73 216.60,179.01 216.90,178.78 217.20,178.75 217.50,178.25 217.80,177.51 218.10,177.01 218.40,177.02 218.70,176.69 219.00,176.05 219.30,175.69 219.60,175.27 219.90,174.56 220.20,173.90 220.50,173.13 220.80,172.28 221.10,171.55 221.40,171.10 221.70,170.55 222.00,169.48 222.30,168.71 222.60,168.12 222.90,167.66 223.20,166.80 223.50,165.93 223.80,165.67 224.10,165.93 224.40,165.85 224.70,165.13 225.00,164.94 225.30,165.30 225.60,165.18 225.90,164.89 226.20,165.41 226.50,165.91 226.80,166.24 227.10,166.56 227.40,167.37 227.70,168.42 228.00,168.85 228.30,169.39 228.60,169.66 228.90,170.43 229.20,171.54 229.50,172.28 229.80,173.20 230.10,173.79 230.40,174.07 230.70,174.88 231.00,175.69 231.30,176.16 231.60,176.74 231.90,177.24 232.20,177.39 232.50,178.09 232.80,178.93 233.10,179.24 233.40,179.85 233.70,179.90 234.00,179.42 234.30,179.43 234.60,179.69 234.90,179.89 235.20,180.24 235.50,180.04 235.80,180.16 236.10,180.30 236.40,180.34 236.70,180.62 237.00,180.53 237.30,180.55 237.60,180.52 237.90,180.43 238.20,180.22 238.50,180.32 238.80,180.97 239.10,181.33 239.40,181.23 239.70,180.99 240.00,180.61 240.30,180.74 240.60,180.85 240.90,180.57 241.20,180.52 241.50,180.54 241.80,180.50 242.10,180.46 242.40,180.33 242.70,180.27 243.00,180.88 243.30,180.93 243.60,180.45 243.90,180.55 244.20,180.71 244.50,180.38 244.80,180.19 245.10,180.54 245.40,180.60 245.70,180.42 246.00,180.61 246.30,180.42 246.60,180.09 246.90,180.06 247.20,180.26 247.50,179.92 247.80,179.45 248.10,179.63 248.40,179.80 248.70,179.93 249.00,180.00 249.30,179.53 249.60,179.36 249.90,179.56 250.20,179.27 250.50,179.41 250.80,179.36 251.10,178.90 251.40,179.03 251.70,179.19 252.00,179.20 252.30,179.62 252.60,179.88 252.90,180.19 253.20,180.19 253.50,179.70 253.80,179.69 254.10,179.89 254.40,179.89 254.70,180.22 255.00,180.40 255.30,180.02 255.60,180.32 255.90,180.72 256.20,180.70 256.50,180.78 256.80,180.87 257.10,180.89 257.40,181.03 257.70,181.13 258.00,180.99 258.30,181.01 258.60,180.68 258.90,180.59"/>
</g>
<rect x="36.0" y="22.8" width="223.10" height="178.90" fill="none" stroke="#111" stroke-width="1.3"/>
<path d="M36.00,201.7v3.0 M47.16,201.7v1.9 M58.31,201.7v3.0 M69.47,201.7v1.9 M80.62,201.7v3.0 M91.78,201.7v1.9 M102.93,201.7v3.0 M114.09,201.7v1.9 M125.24,201.7v3.0 M136.40,201.7v1.9 M147.55,201.7v3.0 M158.71,201.7v1.9 M169.86,201.7v3.0 M181.02,201.7v1.9 M192.17,201.7v3.0 M203.33,201.7v1.9 M214.48,201.7v3.0 M225.64,201.7v1.9 M236.79,201.7v3.0 M247.95,201.7v1.9 M259.10,201.7v3.0" stroke="#111" stroke-width="1.2" fill="none"/>
<g font-size="8.6" text-anchor="middle">
<text x="36.10" y="214.0">1000</text>
<text x="58.41" y="214.0">1200</text>
<text x="80.72" y="214.0">1400</text>
<text x="103.03" y="214.0">1600</text>
<text x="125.34" y="214.0">1800</text>
<text x="147.65" y="214.0">2000</text>
<text x="169.96" y="214.0">2200</text>
<text x="192.27" y="214.0">2400</text>
<text x="214.58" y="214.0">2600</text>
<text x="236.89" y="214.0">2800</text>
<text x="259.20" y="214.0">3000</text>
</g>
<text x="147.6" y="237.0" font-size="12.75" text-anchor="middle">Raman shift (cm<tspan font-size="7.8" dy="-5.2">-1</tspan><tspan dy="5.2">)</tspan></text>
<text transform="translate(17.9,108.1) rotate(-90)" font-size="12.5" text-anchor="middle">Intensity (a.u.)</text>
<line x1="201.8" y1="35.3" x2="229" y2="35.3" stroke="#000000" stroke-width="1.35"/>
<text x="232.2" y="39.2" font-size="11.7">CG</text>
<line x1="201.8" y1="50.2" x2="229" y2="50.2" stroke="#ff0000" stroke-width="1.35"/>
<text x="232.2" y="54.1" font-size="11.7">2h</text>
<line x1="201.8" y1="65.1" x2="229" y2="65.1" stroke="#0000ff" stroke-width="1.35"/>
<text x="232.2" y="69.0" font-size="11.7">5h</text>
<g font-size="10.1" text-anchor="middle">
<text x="74.8" y="128.1">D</text>
<text x="100.3" y="61.7">G</text>
<text x="225.6" y="98.6">2D</text>
</g>
<text x="277.3" y="17.6" font-size="20.6">(b)</text>
<rect x="323.9" y="25.0" width="220.50" height="177.50" fill="none" stroke="#111" stroke-width="1.3"/>
<path d="M323.9,202.95h-2.2 M323.9,189.30h-3.6 M323.9,175.65h-2.2 M323.9,162.00h-3.6 M323.9,148.35h-2.2 M323.9,134.70h-3.6 M323.9,121.05h-2.2 M323.9,107.40h-3.6 M323.9,93.75h-2.2 M323.9,80.10h-3.6 M323.9,66.45h-2.2 M323.9,52.80h-3.6 M323.9,39.15h-2.2 M323.9,25.50h-3.6 M323.87,202.5v2.0 M342.20,202.5v3.4 M360.53,202.5v2.0 M378.87,202.5v3.4 M397.20,202.5v2.0 M415.54,202.5v3.4 M433.88,202.5v2.0 M452.21,202.5v3.4 M470.54,202.5v2.0 M488.88,202.5v3.4 M507.22,202.5v2.0 M525.55,202.5v3.4" stroke="#111" stroke-width="1.2" fill="none"/>
<g font-size="11.3" text-anchor="end">
<text x="318.5" y="192.40">0.2</text>
<text x="318.5" y="165.10">0.3</text>
<text x="318.5" y="137.80">0.4</text>
<text x="318.5" y="110.50">0.5</text>
<text x="318.5" y="83.20">0.6</text>
<text x="318.5" y="55.90">0.7</text>
<text x="318.5" y="28.60">0.8</text>
</g>
<g font-size="11.3" text-anchor="middle">
<text x="342.20" y="216.4">0</text>
<text x="378.87" y="216.4">1</text>
<text x="415.54" y="216.4">2</text>
<text x="452.21" y="216.4">3</text>
<text x="488.88" y="216.4">4</text>
<text x="525.55" y="216.4">5</text>
</g>
<text x="430" y="238.1" font-size="12.4" text-anchor="middle">Milling time (h)</text>
<text transform="translate(291.5,113.6) rotate(-90)" font-size="13.5" text-anchor="middle">I<tspan font-size="8.6" dy="3.2">D</tspan><tspan dy="-3.2">/I</tspan><tspan font-size="8.6" dy="3.2">G</tspan></text>
<polyline points="342.2,180.3 415.6,65.6 526.0,45.6" fill="none" stroke="#f5151f" stroke-width="1.6"/>
<rect x="339.10" y="177.05" width="6.2" height="6.5" fill="#f5151f"/>
<rect x="412.50" y="62.35" width="6.2" height="6.5" fill="#f5151f"/>
<rect x="522.90" y="42.35" width="6.2" height="6.5" fill="#f5151f"/>
<g font-size="11.6">
<text x="348.4" y="191.9">0.23</text>
<text x="389.0" y="60.1">0.65</text>
<text x="516.7" y="66.9">0.72</text>
</g>
</svg></body></html>
